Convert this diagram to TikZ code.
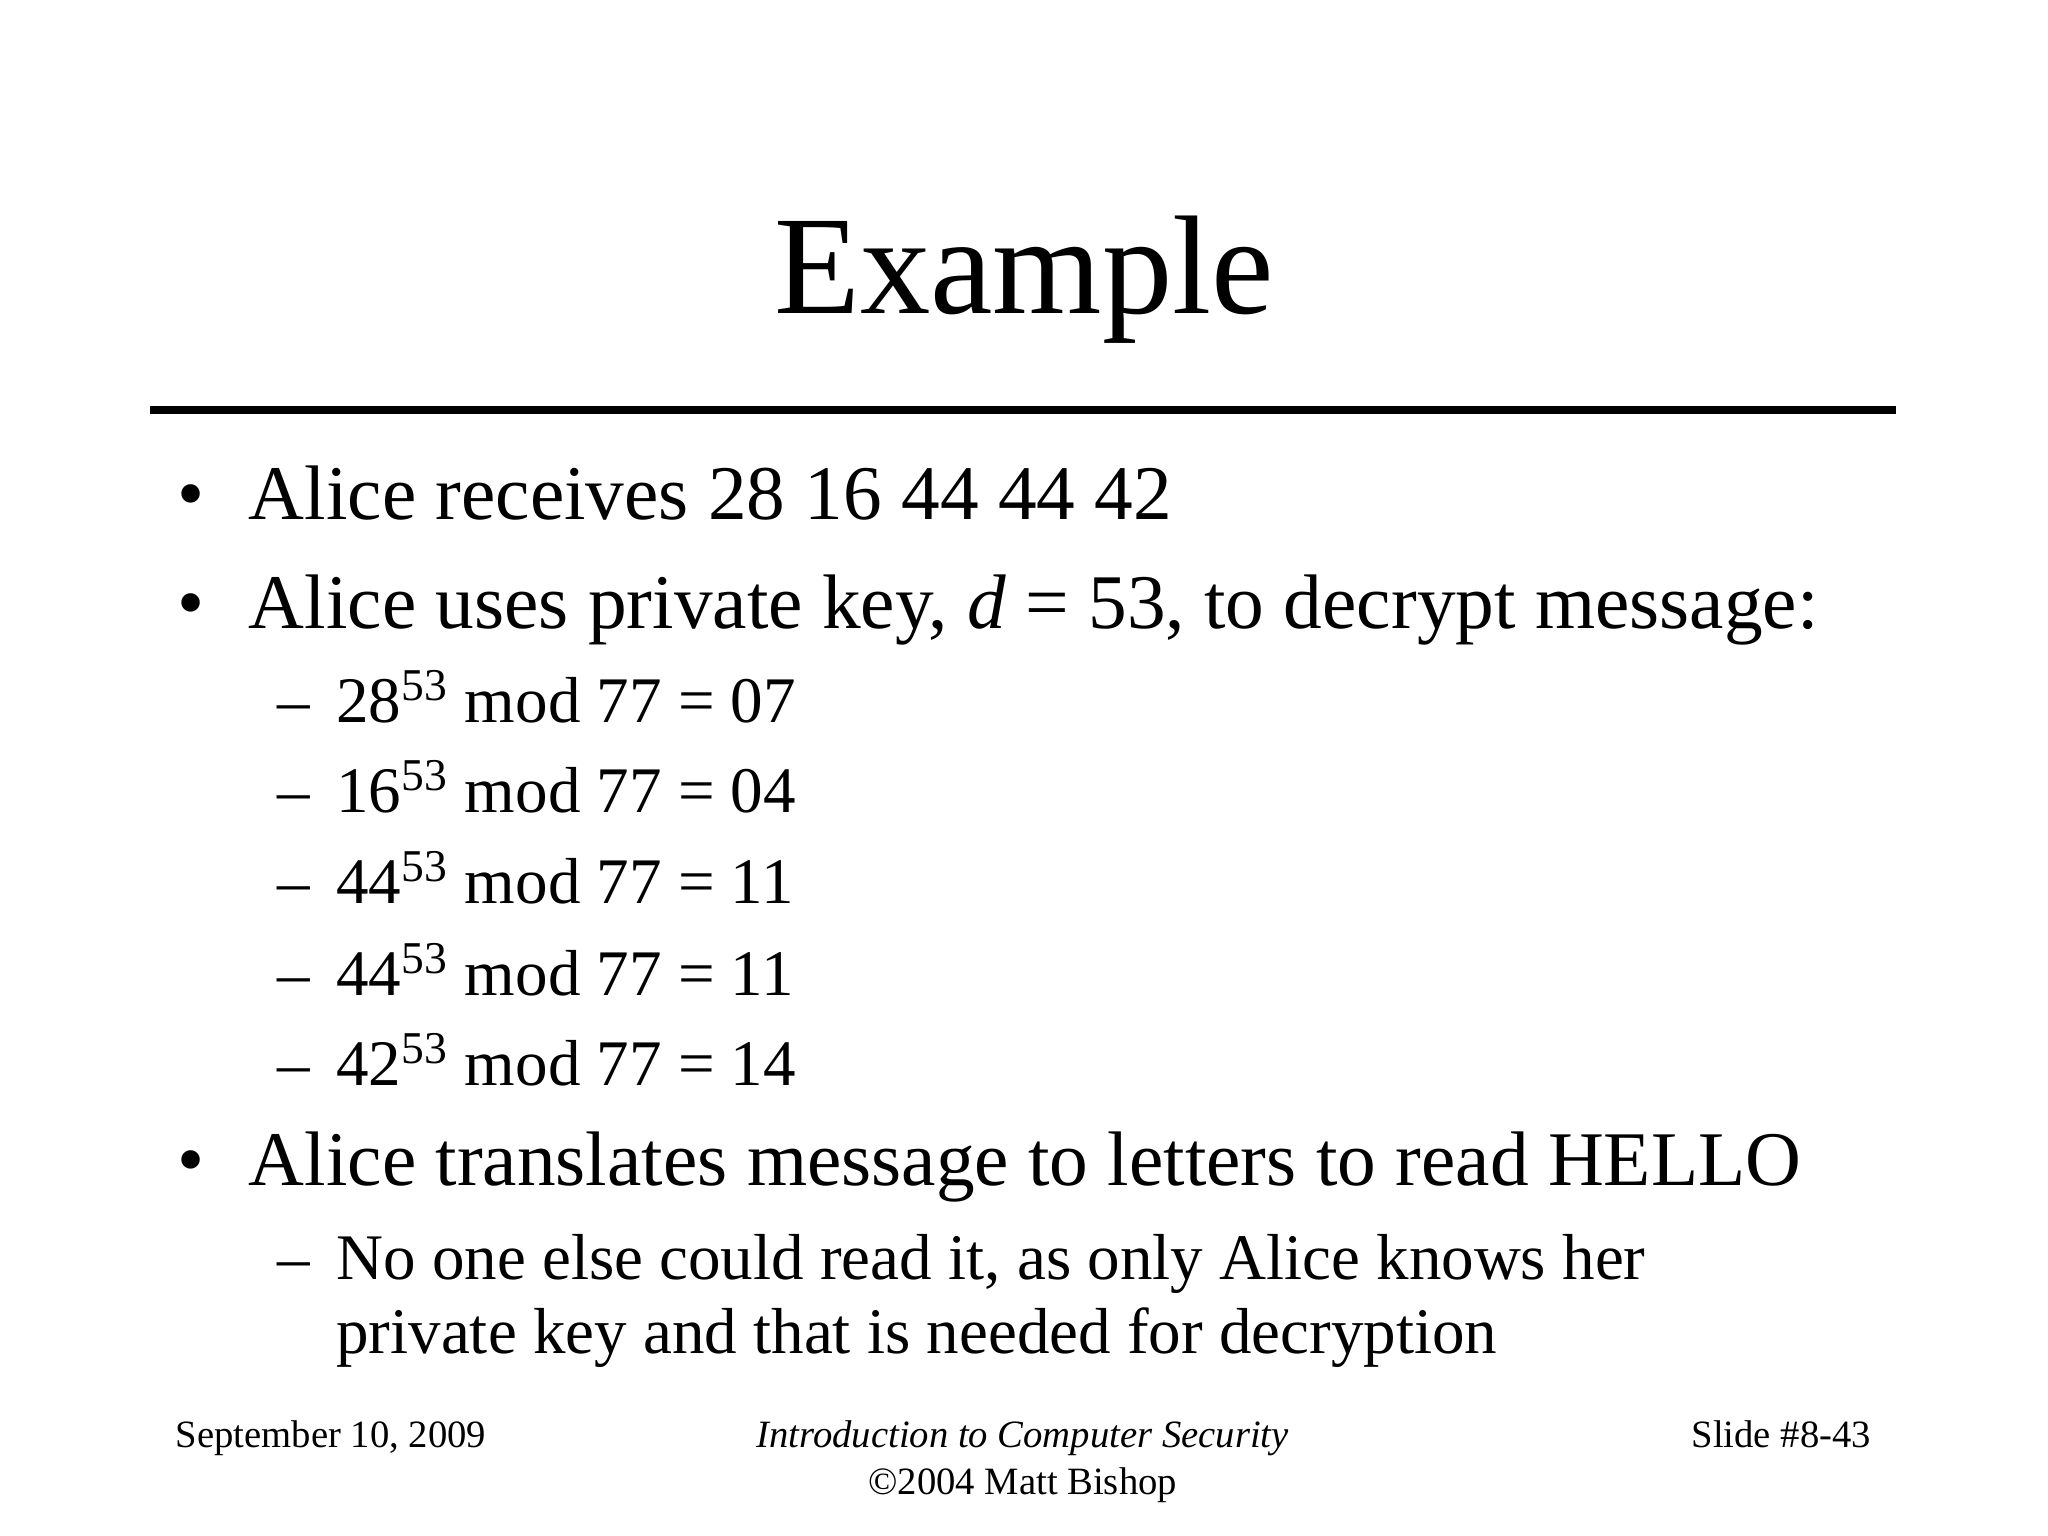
\documentclass[tikz,border=0pt]{standalone}
\usepackage{fontspec}
\setmainfont{Liberation Serif}
\begin{document}
\begin{tikzpicture}[x=0.01306cm,y=-0.01306cm,
  tl/.style={anchor=base west,inner sep=0pt,font=\fontsize{22}{26}\selectfont},
  sl/.style={anchor=base west,inner sep=0pt,font=\fontsize{18.5}{22}\selectfont},
  ft/.style={anchor=base,inner sep=0pt,font=\fontsize{11}{13}\selectfont}]
\useasboundingbox (0,0) rectangle (1568,1176);
\node[anchor=base,inner sep=0pt,font=\fontsize{40}{46}\selectfont] (title) at (784,240) {Example};
\draw[line width=2.3pt] (115,314) coordinate (l1) -- (1452,314) coordinate (l2);
\node[tl] (b1) at (135,398) {•};
\node[tl] (t1) at (190,398) {Alice receives 28 16 44 44 42};
\node[tl] (b2) at (135,481) {•};
\node[tl] (t2) at (190,481) {Alice uses private key, \textit{d} = 53, to decrypt message:};
\foreach \n/\b/\r/\yy in {1/28/07/553,2/16/04/622,3/44/11/692,4/44/11/762,5/42/14/831}{
  \node[sl] (d\n) at (212,\yy) {–};
  \node[sl] (s\n) at (257,\yy) {\b\textsuperscript{53} mod 77 = \r};
}
\node[tl] (b3) at (135,908) {•};
\node[tl] (t3) at (190,908) {Alice translates message to letters to read HELLO};
\node[sl] (d6) at (212,980) {–};
\node[sl] (s6) at (257,980) {No one else could read it, as only Alice knows her};
\node[sl] (s7) at (257,1036) {private key and that is needed for decryption};
\node[ft,anchor=base west] (f1) at (134,1108) {September 10, 2009};
\node[ft] (f2) at (783,1108) {\textit{Introduction to Computer Security}};
\node[ft] (f3) at (783,1144) {©2004 Matt Bishop};
\node[ft,anchor=base east] (f4) at (1433,1108) {Slide \#8-43};
\end{tikzpicture}
\end{document}
